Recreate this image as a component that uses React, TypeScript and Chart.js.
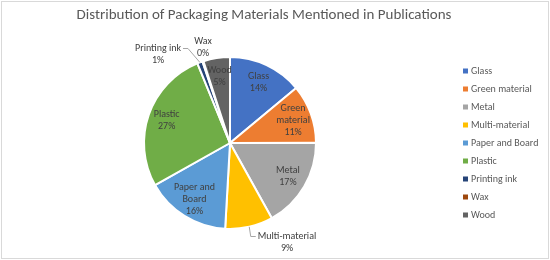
import React, { useEffect, useRef } from "react";
import { Chart, registerables } from "chart.js";

Chart.register(...registerables);

const title = "Distribution of Packaging Materials Mentioned in Publications";
const categories = [
  "Glass",
  "Green material",
  "Metal",
  "Multi-material",
  "Paper and Board",
  "Plastic",
  "Printing ink",
  "Wax",
  "Wood",
];
const values = [14, 11, 17, 9, 16, 27, 1, 0.2, 5];
const colors = [
  "#4472C4",
  "#ED7D31",
  "#A5A5A5",
  "#FFC000",
  "#5B9BD5",
  "#70AD47",
  "#264478",
  "#9E480E",
  "#636363",
];
const labelLines = [
  ["Glass"],
  ["Green", "material"],
  ["Metal"],
  ["Multi-material"],
  ["Paper and", "Board"],
  ["Plastic"],
  ["Printing ink"],
  ["Wax"],
  ["Wood"],
];

// outside label placement (offsets from pie centre, px) and whether a leader is drawn
const outside: Record<number, { dx: number; dy: number; leader: boolean }> = {
  3: { dx: 57, dy: 99, leader: true },
  6: { dx: -72, dy: -89, leader: true },
  7: { dx: -27, dy: -96, leader: false },
};

const FONT = "Carlito, Calibri, Lato, 'Open Sans', sans-serif";

const decorPlugin = {
  id: "decor",
  afterDraw(chart: any) {
    const ctx: CanvasRenderingContext2D = chart.ctx;
    const W = chart.width;
    const H = chart.height;
    ctx.save();
    // outer border
    ctx.strokeStyle = "#D9D9D9";
    ctx.lineWidth = 1;
    ctx.strokeRect(1.5, 1.5, W - 3, H - 3);

    // title
    ctx.fillStyle = "#595959";
    ctx.font = `15px ${FONT}`;
    ctx.textAlign = "center";
    ctx.textBaseline = "middle";
    ctx.fillText(title, 264, 15);

    // data labels
    const meta = chart.getDatasetMeta(0);
    const total = values.reduce((a, b) => a + b, 0);
    ctx.font = `10px ${FONT}`;
    ctx.fillStyle = "#404040";
    const lh = 12;
    meta.data.forEach((arc: any, i: number) => {
      const p = arc.getProps(["x", "y", "startAngle", "endAngle", "outerRadius"], true);
      const mid = (p.startAngle + p.endAngle) / 2;
      const pct = Math.round((values[i] / total) * 100) + "%";
      const lines = [...labelLines[i], pct];
      let cx: number, cy: number;
      const o = outside[i];
      if (o) {
        cx = p.x + o.dx;
        cy = p.y + o.dy;
      } else {
        const r = p.outerRadius * 0.78;
        cx = p.x + Math.cos(mid) * r;
        cy = p.y + Math.sin(mid) * r;
      }
      const top = cy - ((lines.length - 1) * lh) / 2;
      ctx.fillStyle = "#404040";
      lines.forEach((t, k) => ctx.fillText(t, cx, top + k * lh));
      if (o && o.leader) {
        const w = ctx.measureText(lines[0]).width;
        const ex = p.x + Math.cos(mid) * p.outerRadius;
        const ey = p.y + Math.sin(mid) * p.outerRadius;
        const ly = top;
        const toRight = ex > cx;
        const tx = toRight ? cx + w / 2 + 2 : cx - w / 2 - 2;
        const kx = toRight ? tx + 5 : tx - 5;
        ctx.strokeStyle = "#A6A6A6";
        ctx.lineWidth = 1;
        ctx.beginPath();
        ctx.moveTo(tx, ly + 0.5);
        ctx.lineTo(kx, ly + 0.5);
        ctx.lineTo(ex, ey);
        ctx.stroke();
      }
    });

    // legend
    ctx.textAlign = "left";
    ctx.font = `10px ${FONT}`;
    categories.forEach((c, i) => {
      const y = 71 + i * 18;
      ctx.fillStyle = colors[i];
      ctx.fillRect(463, y - 2.5, 5, 5);
      ctx.fillStyle = "#595959";
      ctx.fillText(c, 471, y);
    });
    ctx.restore();
  },
};

export default function App() {
  const ref = useRef<HTMLCanvasElement | null>(null);
  useEffect(() => {
    if (!ref.current) return;
    const chart = new Chart(ref.current, {
      type: "pie",
      data: {
        labels: categories,
        datasets: [
          {
            data: values,
            backgroundColor: colors,
            borderColor: "#FFFFFF",
            borderWidth: 2,
          },
        ],
      },
      options: {
        responsive: false,
        animation: false,
        layout: { padding: { left: 143, right: 233, top: 56, bottom: 30 } },
        plugins: {
          legend: { display: false },
          title: { display: false },
          tooltip: { enabled: false },
        },
      },
      plugins: [decorPlugin],
    });
    return () => chart.destroy();
  }, []);
  return (
    <div style={{ position: "absolute", left: 0, top: 0, width: 550, height: 260, background: "#fff" }}>
      <canvas ref={ref} width={550} height={260} />
    </div>
  );
}
